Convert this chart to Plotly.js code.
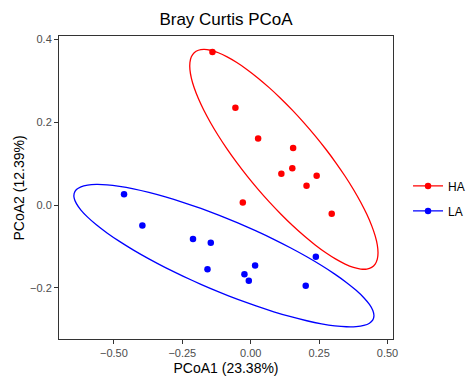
<!DOCTYPE html>
<html>
<head>
<meta charset="utf-8">
<script src="https://cdn.plot.ly/plotly-2.35.2.min.js"></script>
<style>html,body{margin:0;padding:0;background:#fff;}#chart{width:474px;height:391px;}</style>
</head>
<body>
<div id="chart"></div>
<script>
// ---- data ----
const groups = ["HA", "LA"];
const groupColors = ["#FF0000", "#0000FF"];
const haX = [-0.140, -0.056, 0.027, 0.155, 0.112, 0.152, 0.204, 0.241, -0.029, 0.296];
const haY = [0.370, 0.235, 0.161, 0.138, 0.076, 0.089, 0.047, 0.071, 0.006, -0.021];
const laX = [-0.463, -0.396, -0.211, -0.146, -0.158, 0.238, 0.016, -0.023, -0.007, 0.201];
const laY = [0.026, -0.049, -0.082, -0.091, -0.155, -0.125, -0.146, -0.167, -0.183, -0.195];
const xTicks = [-0.50, -0.25, 0.00, 0.25, 0.50];
const yTicks = [-0.2, 0.0, 0.2, 0.4];
const xTitle = "PCoA1 (23.38%)";
const yTitle = "PCoA2 (12.39%)";

// ---- robust t covariance (like MASS::cov.trob) ----
function covTrob(xs, ys, nu, maxit, tol) {
  nu = nu || 5; maxit = maxit || 25; tol = tol || 0.01;
  const n = xs.length, p = 2;
  let lx = xs.reduce((a, b) => a + b, 0) / n;
  let ly = ys.reduce((a, b) => a + b, 0) / n;
  let w = new Array(n).fill(1);
  let dx = [], dy = [];
  for (let it = 0; it < maxit; it++) {
    const w0 = w.slice();
    dx = xs.map(v => v - lx); dy = ys.map(v => v - ly);
    const sw = w.reduce((a, b) => a + b, 0);
    let a = 0, b = 0, c = 0;
    for (let i = 0; i < n; i++) { a += w[i] * dx[i] * dx[i] / sw; b += w[i] * dx[i] * dy[i] / sw; c += w[i] * dy[i] * dy[i] / sw; }
    const det = a * c - b * b;
    const ia = c / det, ib = -b / det, ic = a / det;
    w = dx.map((_, i) => (nu + p) / (nu + (ia * dx[i] * dx[i] + 2 * ib * dx[i] * dy[i] + ic * dy[i] * dy[i])));
    const sw2 = w.reduce((s, v) => s + v, 0);
    lx = w.reduce((s, v, i) => s + v * xs[i], 0) / sw2;
    ly = w.reduce((s, v, i) => s + v * ys[i], 0) / sw2;
    if (w.every((v, i) => Math.abs(v - w0[i]) < tol)) break;
  }
  let a = 0, b = 0, c = 0;
  for (let i = 0; i < n; i++) { a += w[i] * dx[i] * dx[i]; b += w[i] * dx[i] * dy[i]; c += w[i] * dy[i] * dy[i]; }
  return { cov: [a / n, b / n, c / n], center: [lx, ly] };
}

function ellipse(xs, ys, level) {
  const n = xs.length, dfd = n - 1, dfn = 2;
  const fq = (dfd / 2) * (Math.pow(1 - level, -2 / dfd) - 1); // qf(level, 2, dfd)
  const r = Math.sqrt(dfn * fq);
  const t = covTrob(xs, ys);
  const R11 = Math.sqrt(t.cov[0]);
  const R12 = t.cov[1] / R11;
  const R22 = Math.sqrt(t.cov[2] - R12 * R12);
  const seg = 51, ex = [], ey = [];
  for (let k = 0; k <= seg; k++) {
    const ang = k * 2 * Math.PI / seg;
    const cs = Math.cos(ang), sn = Math.sin(ang);
    ex.push(t.center[0] + r * cs * R11);
    ey.push(t.center[1] + r * (cs * R12 + sn * R22));
  }
  return { x: ex, y: ey };
}

const series = [[haX, haY], [laX, laY]];
const traces = [];
series.forEach((s, g) => {
  const e = ellipse(s[0], s[1], 0.95);
  traces.push({ x: e.x, y: e.y, type: "scatter", mode: "lines", line: { color: groupColors[g], width: 1.3, shape: "spline", smoothing: 0.6 }, showlegend: false, hoverinfo: "skip" });
});
series.forEach((s, g) => {
  traces.push({ x: s[0], y: s[1], type: "scatter", mode: "markers", marker: { color: groupColors[g], size: 6.5 }, showlegend: false });
});
groups.forEach((name, g) => {
  traces.push({ x: [null], y: [null], type: "scatter", mode: "lines+markers", name: name, legendgroup: name,
    line: { color: groupColors[g], width: 1.3 }, marker: { color: groupColors[g], size: 6.5 } });
});

const axisCommon = {
  showgrid: false, zeroline: false, showline: true, mirror: true, linecolor: "#333333", linewidth: 1,
  ticks: "outside", ticklen: 4, tickwidth: 1, tickcolor: "#333333", automargin: false,
  tickfont: { family: "Liberation Sans, Arial, sans-serif", size: 11, color: "#4D4D4D" }
};

const layout = {
  width: 474, height: 391,
  margin: { l: 59, r: 81, t: 36, b: 52, autoexpand: false },
  paper_bgcolor: "#FFFFFF", plot_bgcolor: "#FFFFFF",
  font: { family: "Liberation Sans, Arial, sans-serif", color: "#000000" },
  title: { text: "Bray Curtis PCoA", x: 0.4768, xanchor: "center", y: 0.951, yanchor: "middle",
    font: { size: 17, color: "#000000", family: "Liberation Sans, Arial, sans-serif" } },
  xaxis: Object.assign({}, axisCommon, {
    range: [-0.7007, 0.520], tickvals: xTicks, ticktext: xTicks.map(v => v.toFixed(2).replace("-", "\u2212")),
    title: { text: xTitle, font: { size: 14, color: "#000000" }, standoff: 4 }
  }),
  yaxis: Object.assign({}, axisCommon, {
    range: [-0.3235, 0.4085], tickvals: yTicks, ticktext: yTicks.map(v => v.toFixed(1).replace("-", "\u2212"))
  }),
  annotations: [{
    text: yTitle, xref: "paper", yref: "paper", x: -0.1198, y: 0.5, xanchor: "center", yanchor: "middle",
    textangle: -90, showarrow: false, font: { size: 14, color: "#000000" }
  }],
  legend: { x: 1.045, xanchor: "left", y: 0.464, yanchor: "middle", font: { size: 12, color: "#000000" },
    bgcolor: "rgba(0,0,0,0)", tracegroupgap: 6 },
  showlegend: true
};

Plotly.newPlot("chart", traces, layout, { displayModeBar: false, staticPlot: true });
</script>
</body>
</html>
